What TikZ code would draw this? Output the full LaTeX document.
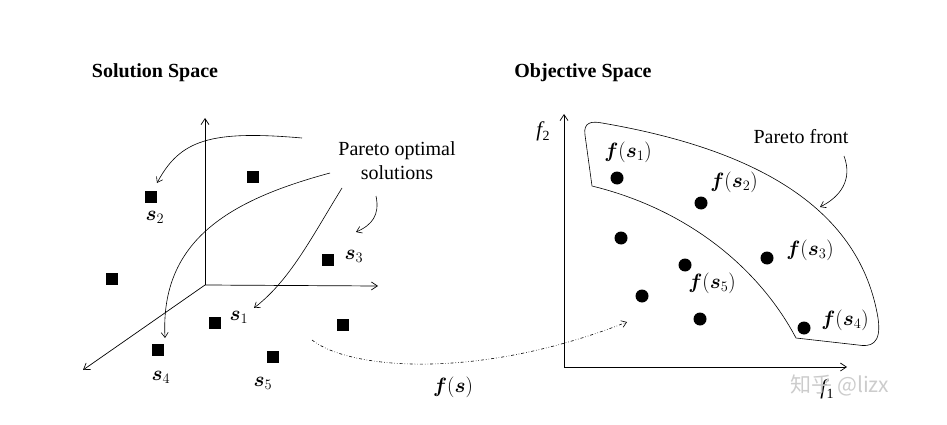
\documentclass[tikz,border=0pt]{standalone}
\usepackage{amsmath,bm}
\usepackage{fontspec}
\setmainfont{Liberation Serif}
\newfontfamily\cjk{Noto Sans CJK SC}
\usetikzlibrary{arrows.meta}
\begin{document}
\begin{tikzpicture}[x=1pt,y=-1pt,
  ax/.style={-{Straight Barb[length=6pt,width=8pt]},line width=0.7pt},
  pt/.style={-{Straight Barb[length=5pt,width=7pt]},line width=0.6pt},
  sq/.style={fill=black,minimum size=12pt,inner sep=0,draw=none},
  dot/.style={circle,fill=black,minimum size=13pt,inner sep=0},
  lab/.style={font=\fontsize{21}{21}\selectfont,inner sep=1pt},
  ttl/.style={font=\bfseries\fontsize{20}{20}\selectfont}]
\useasboundingbox (0,0) rectangle (947,425);
% left
\node[ttl] (t1) at (155,73) {Solution Space};
\node[ttl] (t2) at (583,73) {Objective Space};
\coordinate (o1) at (205,285);
\coordinate (yu) at (205,118);
\coordinate (xr) at (378,286);
\coordinate (zd) at (83,370);
\draw[ax] (o1) -- (yu);
\draw[ax] (o1) -- (xr);
\draw[ax] (o1) -- (zd);
\node[sq] (a2) at (151,197) {};
\node[sq] (b1) at (253,177) {};
\node[sq] (b2) at (112,279) {};
\node[sq] (a3) at (328,260) {};
\node[sq] (a1) at (215,323) {};
\node[sq] (b3) at (343,325) {};
\node[sq] (a4) at (158,350) {};
\node[sq] (a5) at (273,357) {};
\node[lab] (l2) at (155,217) {$\bm{s}_2$};
\node[lab] (l3) at (354,256) {$\bm{s}_3$};
\node[lab] (l1) at (239,317) {$\bm{s}_1$};
\node[lab] (l4) at (161,377) {$\bm{s}_4$};
\node[lab] (l5) at (263,383) {$\bm{s}_5$};
\node[align=center,font=\fontsize{20}{24}\selectfont] (po) at (397,161) {Pareto optimal\\solutions};
\coordinate (p1) at (302,138);
\coordinate (p2) at (330,173);
\coordinate (p3) at (342,188);
\coordinate (p4) at (376,196);
\draw[pt] (p1) .. controls (210,130) and (180,140) .. (157,183);
\draw[pt] (p2) .. controls (230,200) and (160,240) .. (165,338);
\draw[pt] (p3) .. controls (310,240) and (290,280) .. (254,308);
\draw[pt] (p4) .. controls (380,215) and (372,225) .. (356,232);
% mapping
\coordinate (m1) at (312,340);
\coordinate (m2) at (627,322);
\draw[pt,dash dot dot] (m1) .. controls (350,370) and (480,380) .. (m2);
\node[lab] (fs) at (453,387) {$\bm{f}(\bm{s})$};
% right
\coordinate (o2) at (564,367);
\draw[ax] (o2) -- (564,114) coordinate (y2);
\draw[ax] (o2) -- (847,367) coordinate (x2);
\node[font=\fontsize{21}{21}\selectfont\itshape] (f2) at (543,131) {f\kern0.5pt\raisebox{-4pt}{\fontsize{14}{14}\selectfont\upshape 2}};
\node[font=\fontsize{21}{21}\selectfont\itshape] (f1) at (827,389) {f\kern0.5pt\raisebox{-4pt}{\fontsize{14}{14}\selectfont\upshape 1}};
\draw[line width=0.6pt] (592,186) -- (585,135) .. controls (583,122) and (592,121) .. (602,123)
  .. controls (760,150) and (860,210) .. (878,318)
  .. controls (882,345) and (870,347) .. (858,345)
  -- (796,338) .. controls (760,270) and (690,210) .. cycle;
\node[dot] (d1) at (617,178) {};
\node[dot] (d2) at (701,203) {};
\node[dot] (e1) at (621,238) {};
\node[dot] (d5) at (685,265) {};
\node[dot] (d3) at (767,258) {};
\node[dot] (e2) at (642,296) {};
\node[dot] (e3) at (700,319) {};
\node[dot] (d4) at (804,328) {};
\node[lab] (g1) at (628,152) {$\bm{f}(\bm{s}_1)$};
\node[lab] (g2) at (734,182) {$\bm{f}(\bm{s}_2)$};
\node[lab] (g3) at (810,250) {$\bm{f}(\bm{s}_3)$};
\node[lab] (g4) at (845,320) {$\bm{f}(\bm{s}_4)$};
\node[lab] (g5) at (712,283) {$\bm{f}(\bm{s}_5)$};
\node[font=\fontsize{20}{20}\selectfont] (pf) at (801,137) {Pareto front};
\coordinate (q1) at (844,156);
\draw[pt] (q1) .. controls (853,180) and (840,197) .. (820,207);
\node[text=gray!40,font=\cjk\fontsize{21}{21}\selectfont] (wm) at (840,385) {知乎 @lizx};
\end{tikzpicture}
\end{document}
